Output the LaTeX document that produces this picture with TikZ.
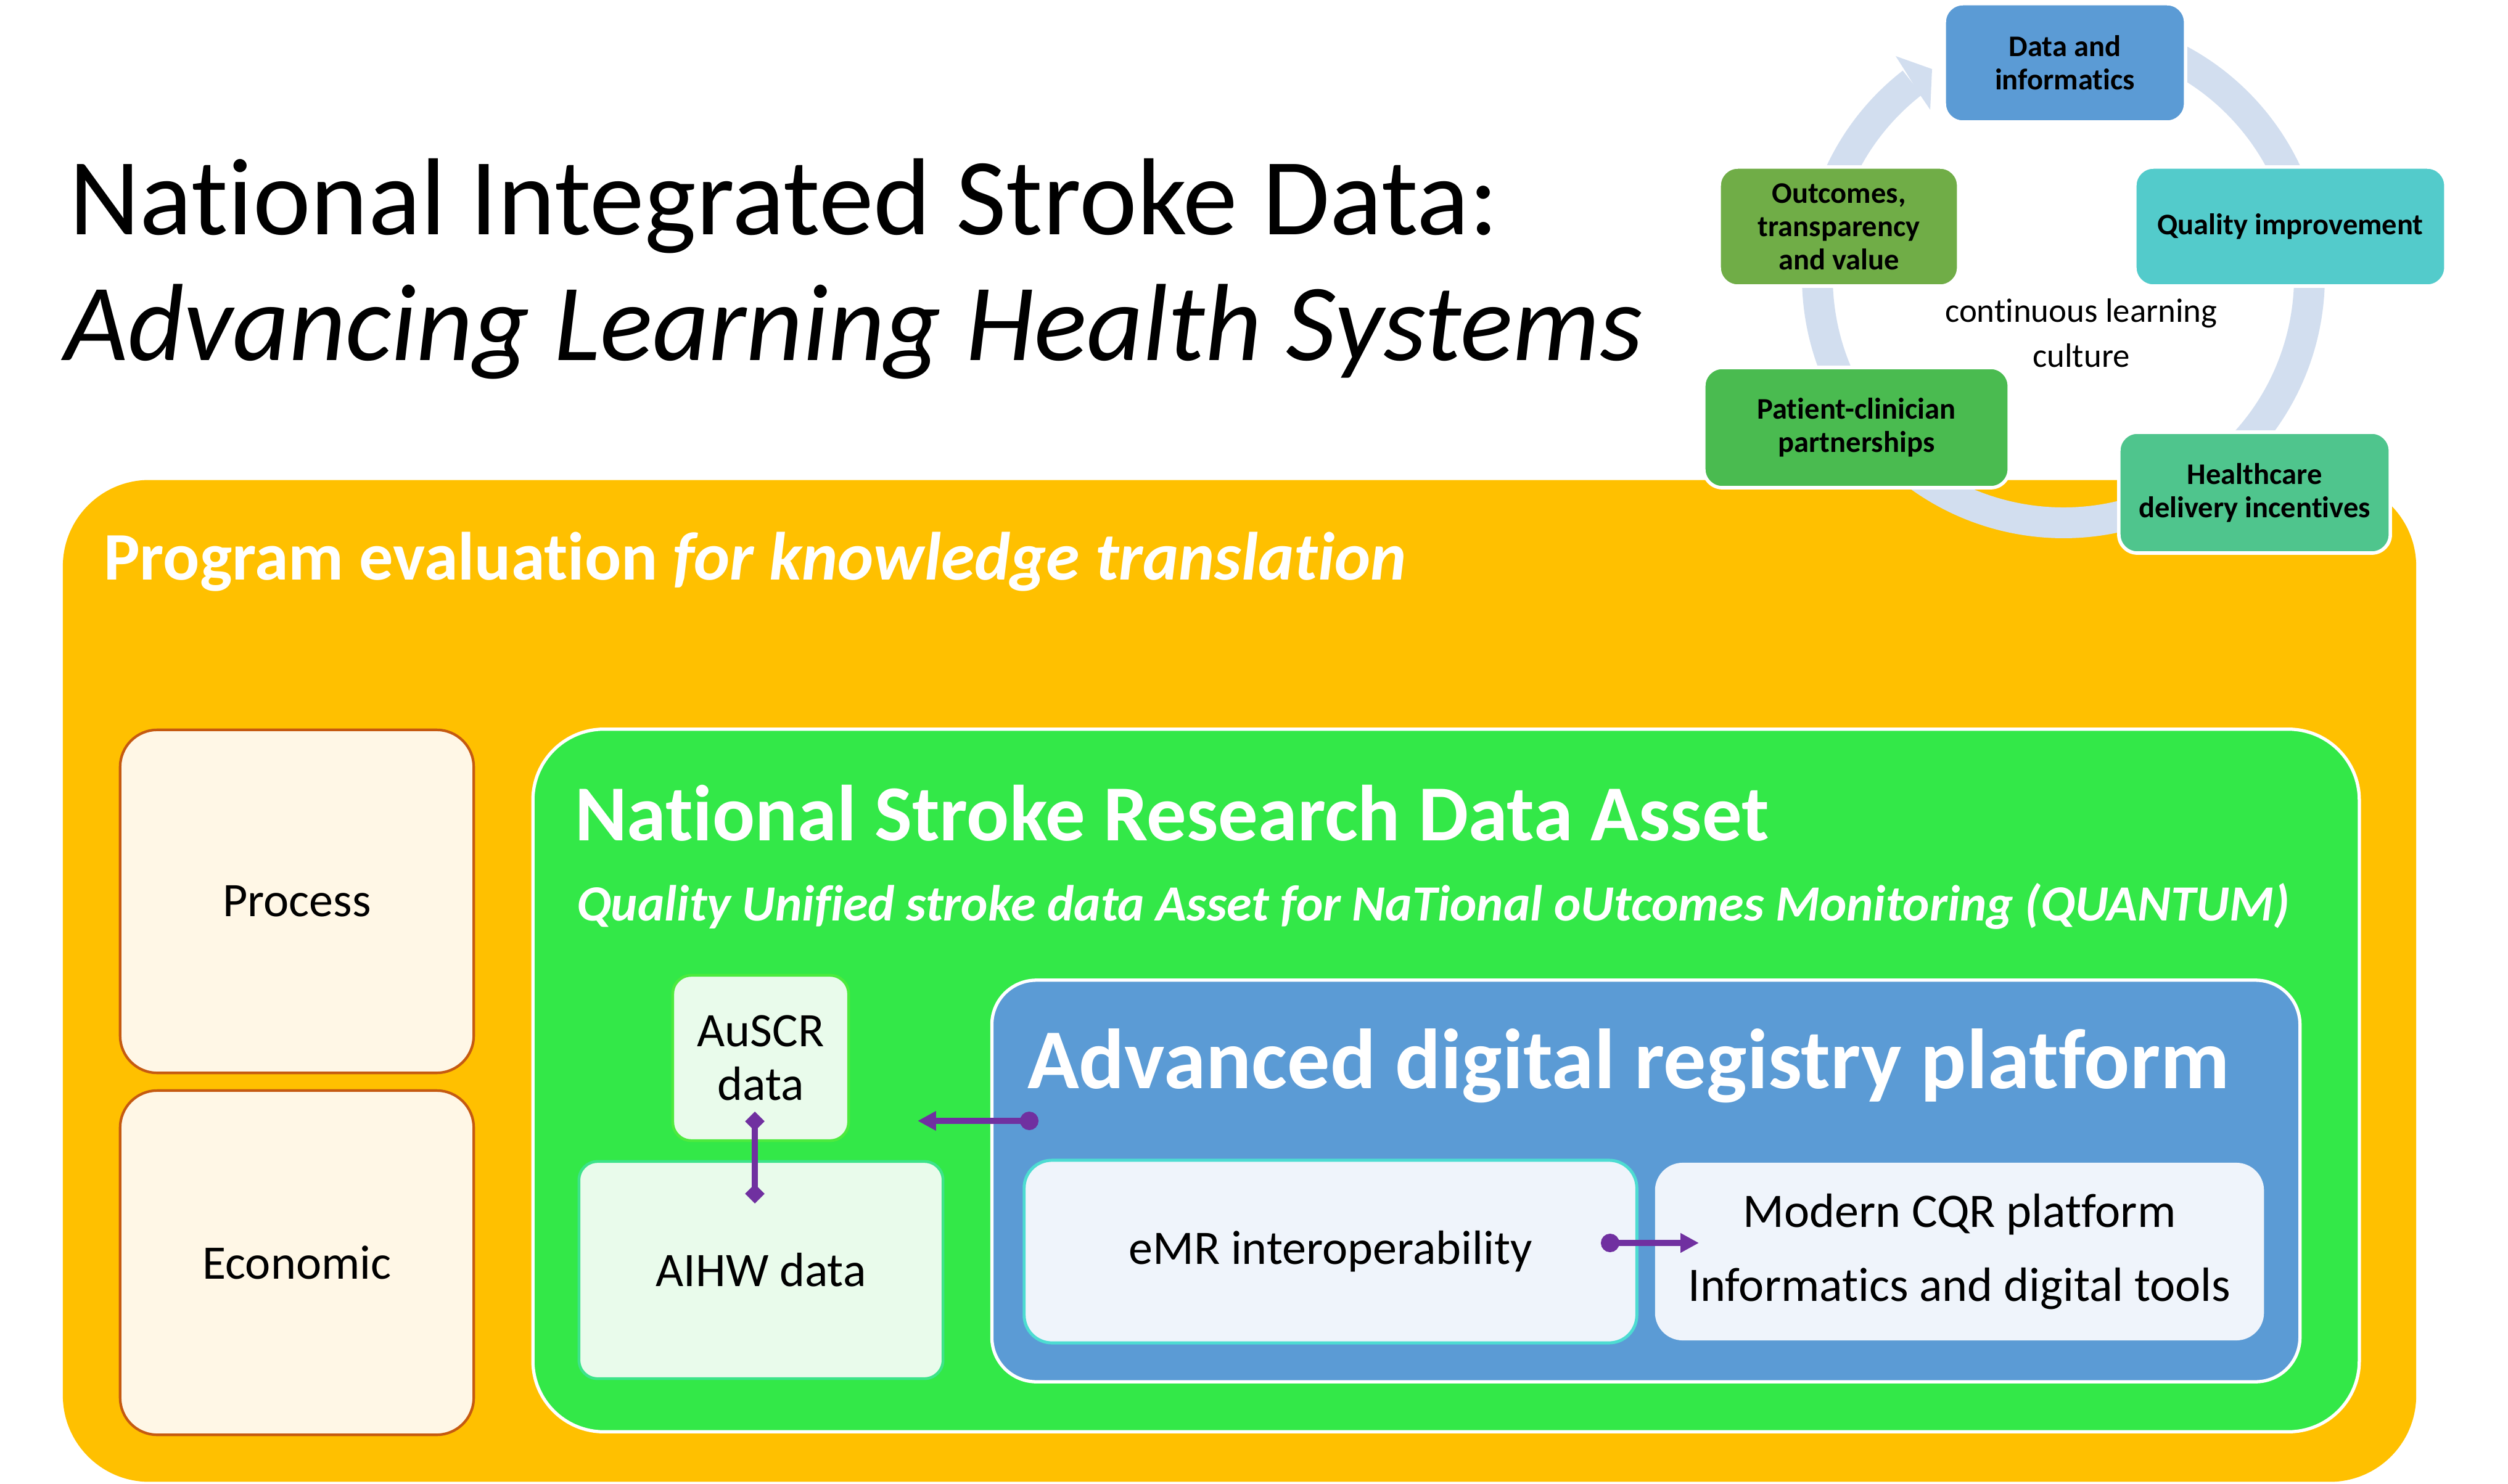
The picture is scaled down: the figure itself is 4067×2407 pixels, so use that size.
\documentclass[tikz,border=0pt]{standalone}
\usepackage{fontspec}
\setmainfont{Carlito}[Ligatures={NoCommon}]
\usetikzlibrary{arrows.meta}
\definecolor{orangeM}{HTML}{FFC000}
\definecolor{greenM}{HTML}{33E848}
\definecolor{blueM}{HTML}{5B9BD5}
\definecolor{creamM}{HTML}{FFF7E6}
\definecolor{brownM}{HTML}{C55A11}
\definecolor{paleG}{HTML}{E9FBEB}
\definecolor{paleB}{HTML}{EFF4FB}
\definecolor{edgeA}{HTML}{4DEA3E}
\definecolor{edgeB}{HTML}{3DE38A}
\definecolor{edgeC}{HTML}{4DDCD2}
\definecolor{purpleM}{HTML}{7030A0}
\definecolor{ringM}{HTML}{D2DEEF}
\definecolor{cData}{HTML}{5B9BD5}
\definecolor{cQual}{HTML}{53CBCB}
\definecolor{cHealth}{HTML}{4FC58D}
\definecolor{cPat}{HTML}{4ABB50}
\definecolor{cOut}{HTML}{70AD47}
\newcommand{\fsz}[2]{\fontsize{#1}{#2}\selectfont}
\begin{document}
\begin{tikzpicture}[x=0.01cm,y=-0.01cm,
  every node/.style={inner sep=0pt,outer sep=0pt},
  progbox/.style={rectangle,fill=orangeM,rounded corners=1.4cm},
  evalbox/.style={rectangle,fill=creamM,draw=brownM,line width=1.2pt,rounded corners=0.6cm,font=\fsz{22.2}{26}},
  assetbox/.style={rectangle,fill=greenM,draw=white,line width=1.5pt,rounded corners=1.15cm},
  platbox/.style={rectangle,fill=blueM,draw=white,line width=1.5pt,rounded corners=0.72cm},
  srcbox/.style={rectangle,fill=paleG,line width=1.3pt,rounded corners=0.3cm,align=center,font=\fsz{22.2}{24.5}},
  toolbox/.style={rectangle,fill=paleB,rounded corners=0.45cm,align=center,font=\fsz{22.2}{33.9}},
  cyclebox/.style={rectangle,draw=white,line width=1.6pt,rounded corners=0.3cm,align=center,font=\bfseries\fsz{13.8}{15.4}},
  whitehead/.style={anchor=base west,text=white},
  link/.style={draw=purpleM,line width=2.6pt},
]
\useasboundingbox (0,0) rectangle (4067,2407);

% title
\node[anchor=base west,font=\fsz{50.5}{58}] (t1) at (112,381) {National Integrated Stroke Data:};
\node[anchor=base west,font=\itshape\fsz{50.6}{58}] (t2) at (104,585) {Advancing Learning Health Systems};

% program evaluation
\node[progbox,minimum width=38.14cm,minimum height=16.24cm] (prog) at (2010,1591) {};
\node[whitehead,font=\bfseries\fsz{31.4}{36}] (pe) at (168,940) {Program evaluation \textit{for knowledge translation}};

\node[evalbox,minimum width=5.73cm,minimum height=5.56cm] (proc) at (481.5,1462) {Process};
\node[evalbox,minimum width=5.73cm,minimum height=5.58cm] (econ) at (481.5,2048) {Economic};

% national stroke research data asset
\node[assetbox,minimum width=29.6cm,minimum height=11.39cm] (asset) at (2345,1752.5) {};
\node[whitehead,font=\bfseries\fsz{36.6}{40}] (nsrda) at (932,1363) {National Stroke Research Data Asset};
\node[whitehead,font=\bfseries\itshape\fsz{23.4}{27}] (quant) at (935,1493) {Quality Unified stroke data Asset for NaTional oUtcomes Monitoring (QUANTUM)};

\node[srcbox,draw=edgeA,minimum width=2.85cm,minimum height=2.68cm] (auscr) at (1233.5,1716) {AuSCR\\data};
\node[srcbox,draw=edgeB,minimum width=5.9cm,minimum height=3.52cm] (aihw) at (1234,2060) {AIHW data};

% platform
\node[platbox,minimum width=21.2cm,minimum height=6.51cm] (plat) at (2669,1915.5) {};
\node[whitehead,font=\bfseries\fsz{39.3}{44}] (adrp) at (1666,1765) {Advanced digital registry platform};
\node[toolbox,draw=edgeC,line width=1.4pt,minimum width=9.93cm,minimum height=2.96cm] (emr) at (2157.5,2030) {eMR interoperability};
\node[toolbox,minimum width=9.87cm,minimum height=2.88cm] (cqr) at (3177.5,2030) {Modern CQR platform\\Informatics and digital tools};

% connectors
\coordinate (d1) at (1224,1803);
\coordinate (d2) at (1224,1952);
\draw[link,{Diamond[length=9pt,width=9pt]}-{Diamond[length=9pt,width=9pt]}] (d1) -- (d2);
\coordinate (h1) at (1684,1818);
\coordinate (h2) at (1488,1818);
\draw[link,{Circle[length=8.5pt,width=8.5pt]}-{Triangle[length=8.5pt,width=8.5pt]}] (h1) -- (h2);
\coordinate (e1) at (2596,2016);
\coordinate (e2) at (2755,2016);
\draw[link,{Circle[length=8.5pt,width=8.5pt]}-{Triangle[length=8.5pt,width=8.5pt]}] (e1) -- (e2);

% learning cycle
\coordinate (cc) at (3346,449);
\draw[ringM,line width=14.2pt] (cc) ++(-127.9:399) arc[start angle=-127.9,end angle=-430,radius=399];
\fill[ringM] (3088,113) -- (3074,91) -- (3133,112) -- (3130,178) -- (3115,156) -- cycle;

\node[cyclebox,fill=cData,minimum width=3.91cm,minimum height=1.92cm] (data) at (3348.5,102) {Data and\\informatics};
\node[cyclebox,fill=cQual,minimum width=5.04cm,minimum height=1.93cm] (qual) at (3714,367.5) {Quality improvement};
\node[cyclebox,fill=cHealth,minimum width=4.4cm,minimum height=1.96cm] (health) at (3656,799) {Healthcare\\delivery incentives};
\node[cyclebox,fill=cPat,minimum width=4.95cm,minimum height=1.95cm] (pat) at (3010.5,693.5) {Patient-clinician\\partnerships};
\node[cyclebox,fill=cOut,minimum width=3.88cm,minimum height=1.93cm] (outc) at (2982,367.5) {Outcomes,\\transparency\\and value};
\node[align=center,font=\fsz{15.6}{20.8}] (clc) at (3375,540) {continuous learning\\culture};
\end{tikzpicture}
\end{document}
